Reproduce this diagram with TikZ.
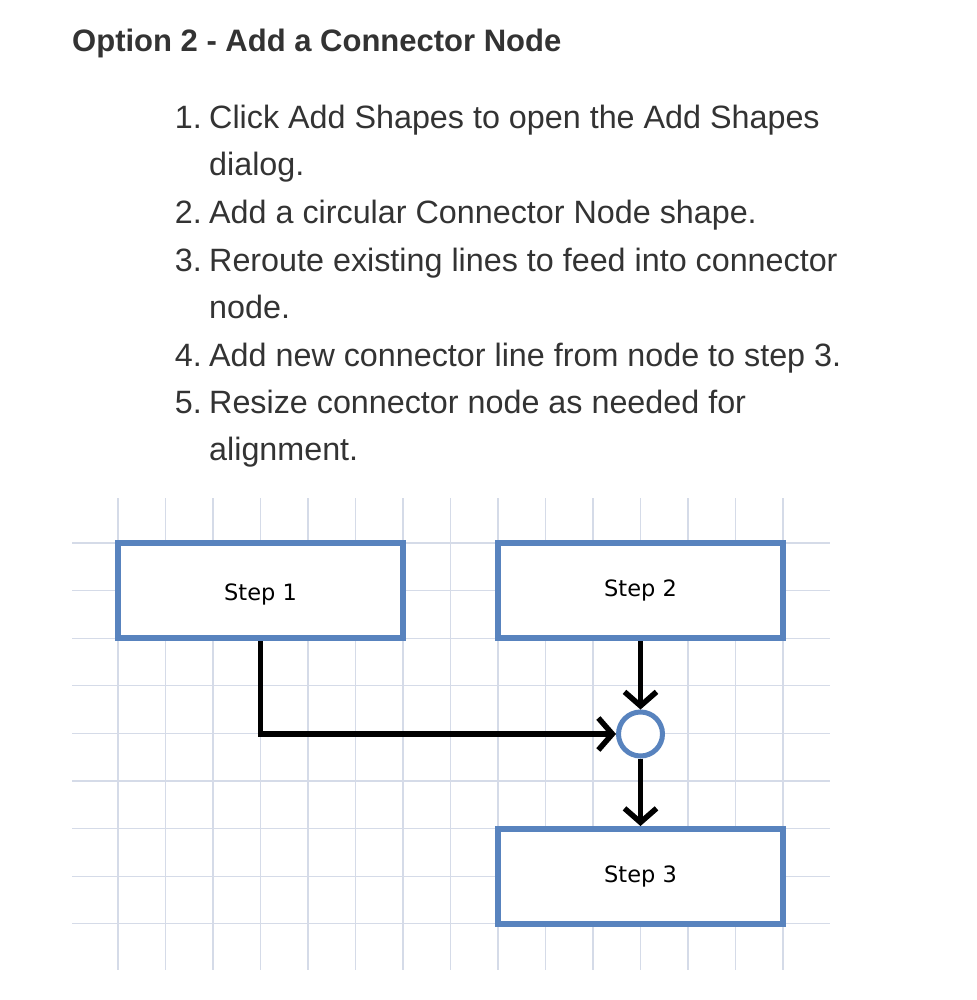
\documentclass[tikz,border=0pt]{standalone}
\usepackage{fontspec}
\setmainfont{Liberation Sans}
\newfontfamily\stepfont{DejaVu Sans}
\usetikzlibrary{arrows.meta}
\definecolor{gridc}{HTML}{D5DBE8}
\definecolor{boxc}{HTML}{5883BE}
\definecolor{txt}{HTML}{333333}
\begin{document}
\begin{tikzpicture}[x=1pt,y=-1pt,
  stepbox/.style={draw=boxc,line width=6pt,fill=white,minimum width=285pt,minimum height=95pt,inner sep=0pt,font=\stepfont\fontsize{22.5}{26}\selectfont},
  conn/.style={line width=5.5pt,-{Straight Barb[length=14pt,width=32pt,line width=5.5pt]}},
  item/.style={anchor=base west,text=txt,font=\fontsize{32.3}{38}\selectfont,inner sep=0pt}]
\useasboundingbox[fill=white] (0,0) rectangle (976,1000);
\foreach \i in {0,...,14} \draw[gridc,line width=1.3pt] (118+47.5*\i,498) -- (118+47.5*\i,970);
\foreach \j in {0,...,8} \draw[gridc,line width=1.3pt] (72,543+47.6*\j) -- (830,543+47.6*\j);
\node[anchor=base west,inner sep=0pt,text=txt,font=\bfseries\fontsize{31}{36}\selectfont] (title) at (72,52) {Option 2 - Add a Connector Node};
\foreach \n/\y/\t in {1/129/{Click Add Shapes to open the Add Shapes},2/224/{Add a circular Connector Node shape.},3/271/{Reroute existing lines to feed into connector},4/366/{Add new connector line from node to step 3.},5/413/{Resize connector node as needed for}} {
  \node[anchor=base east,text=txt,font=\fontsize{32.3}{38}\selectfont,inner sep=0pt] (n\n) at (202,\y) {\n.};
  \node[item] (t\n) at (209,\y) {\t};
}
\node[item] (c1) at (209,176) {dialog.};
\node[item] (c3) at (209,318) {node.};
\node[item] (c5) at (209,460) {alignment.};
\node[stepbox,text depth=0pt] (s1) at (260.5,590.5) {\raisebox{-4pt}{Step 1}};
\node[stepbox] (s2) at (640.5,590.5) {\raisebox{-4pt}{Step 2}};
\node[stepbox] (s3) at (640.5,876.5) {\raisebox{-4pt}{Step 3}};
\node[circle,draw=boxc,line width=5pt,fill=white,minimum size=44pt,inner sep=0pt] (cn) at (640.5,734) {};
\draw[conn] (s1.south) |- (cn.west);
\draw[conn] (s2.south) -- (cn.north);
\draw[conn] (cn.south) -- (s3.north);
\end{tikzpicture}
\end{document}
